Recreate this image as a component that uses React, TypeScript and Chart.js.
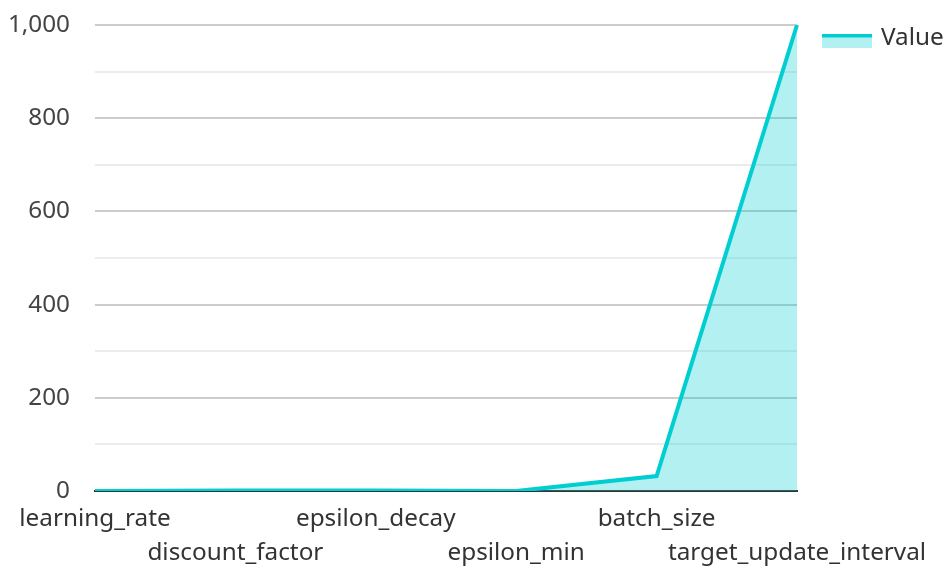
import React, { useEffect, useRef } from "react";
import { Chart, registerables } from "chart.js";

Chart.register(...registerables);

const categories = [
  "learning_rate",
  "discount_factor",
  "epsilon_decay",
  "epsilon_min",
  "batch_size",
  "target_update_interval",
];
const values = [0.001, 0.99, 0.995, 0.01, 32, 1000];
const seriesName = "Value";
const yMin = 0;
const yMax = 1000;
const yStep = 100;
const yLabelStep = 200;

const LINE = "#00CED1";
const FILL = "rgba(0,206,209,0.3)";
const FONT = "'Noto Sans', 'Open Sans', sans-serif";
const FSIZE = 24.3;

const legendPlugin = {
  id: "customLegend",
  afterDraw(chart: any) {
    const { ctx, chartArea } = chart;
    const x = chartArea.right + 25;
    const y = chartArea.top + 9;
    ctx.save();
    ctx.fillStyle = FILL;
    ctx.fillRect(x, y, 50, 14);
    ctx.fillStyle = LINE;
    ctx.fillRect(x, y, 50, 3.5);
    ctx.fillStyle = "#333333";
    ctx.font = `${FSIZE}px ${FONT}`;
    ctx.textBaseline = "alphabetic";
    ctx.textAlign = "left";
    ctx.fillText(seriesName, x + 59, chartArea.top + 20);
    ctx.restore();
  },
};

export default function App() {
  const ref = useRef<HTMLCanvasElement | null>(null);
  useEffect(() => {
    if (!ref.current) return;
    const chart = new Chart(ref.current, {
      type: "line",
      data: {
        labels: categories,
        datasets: [
          {
            label: seriesName,
            data: values,
            borderColor: LINE,
            backgroundColor: FILL,
            borderWidth: 4,
            fill: "origin",
            pointRadius: 0,
            tension: 0,
          },
        ],
      },
      options: {
        animation: false,
        responsive: true,
        maintainAspectRatio: false,
        layout: { padding: { top: 25, right: 149, left: 0, bottom: 0 } },
        plugins: {
          legend: { display: false },
          tooltip: { enabled: false },
        },
        scales: {
          x: {
            offset: false,
            afterFit: (s: any) => {
              s.height = 76;
              s.paddingTop = 0;
              s.paddingBottom = 0;
              s.paddingLeft = 0;
              s.paddingRight = 0;
            },
            grid: { display: false, drawTicks: false },
            border: { display: true, color: "#333333", width: 2 },
            ticks: {
              autoSkip: false,
              maxRotation: 0,
              minRotation: 0,
              padding: 12,
              color: "#333333",
              font: { family: FONT, size: FSIZE, lineHeight: 1.36 },
              callback: function (this: any, _v: any, i: number) {
                const l = categories[i];
                return i % 2 === 1 ? ["", l] : [l];
              },
            },
          },
          y: {
            min: yMin,
            max: yMax,
            afterFit: (s: any) => {
              s.width = 95;
              s.paddingTop = 0;
              s.paddingBottom = 0;
              s.paddingLeft = 0;
              s.paddingRight = 0;
            },
            border: { display: false },
            grid: {
              drawTicks: false,
              lineWidth: 2,
              color: (c: any) =>
                c.tick && c.tick.value % yLabelStep === 0 ? "#cccccc" : "#ececec",
            },
            ticks: {
              stepSize: yStep,
              padding: 25,
              color: "#444444",
              font: { family: FONT, size: FSIZE },
              callback: (v: any) =>
                Number(v) % yLabelStep === 0 ? Number(v).toLocaleString("en-US") : "",
            },
          },
        },
      },
      plugins: [legendPlugin],
    });
    return () => chart.destroy();
  }, []);
  return (
    <div style={{ position: "fixed", left: 0, top: 0, width: 946, height: 567, background: "#fff" }}>
      <canvas ref={ref} />
    </div>
  );
}
